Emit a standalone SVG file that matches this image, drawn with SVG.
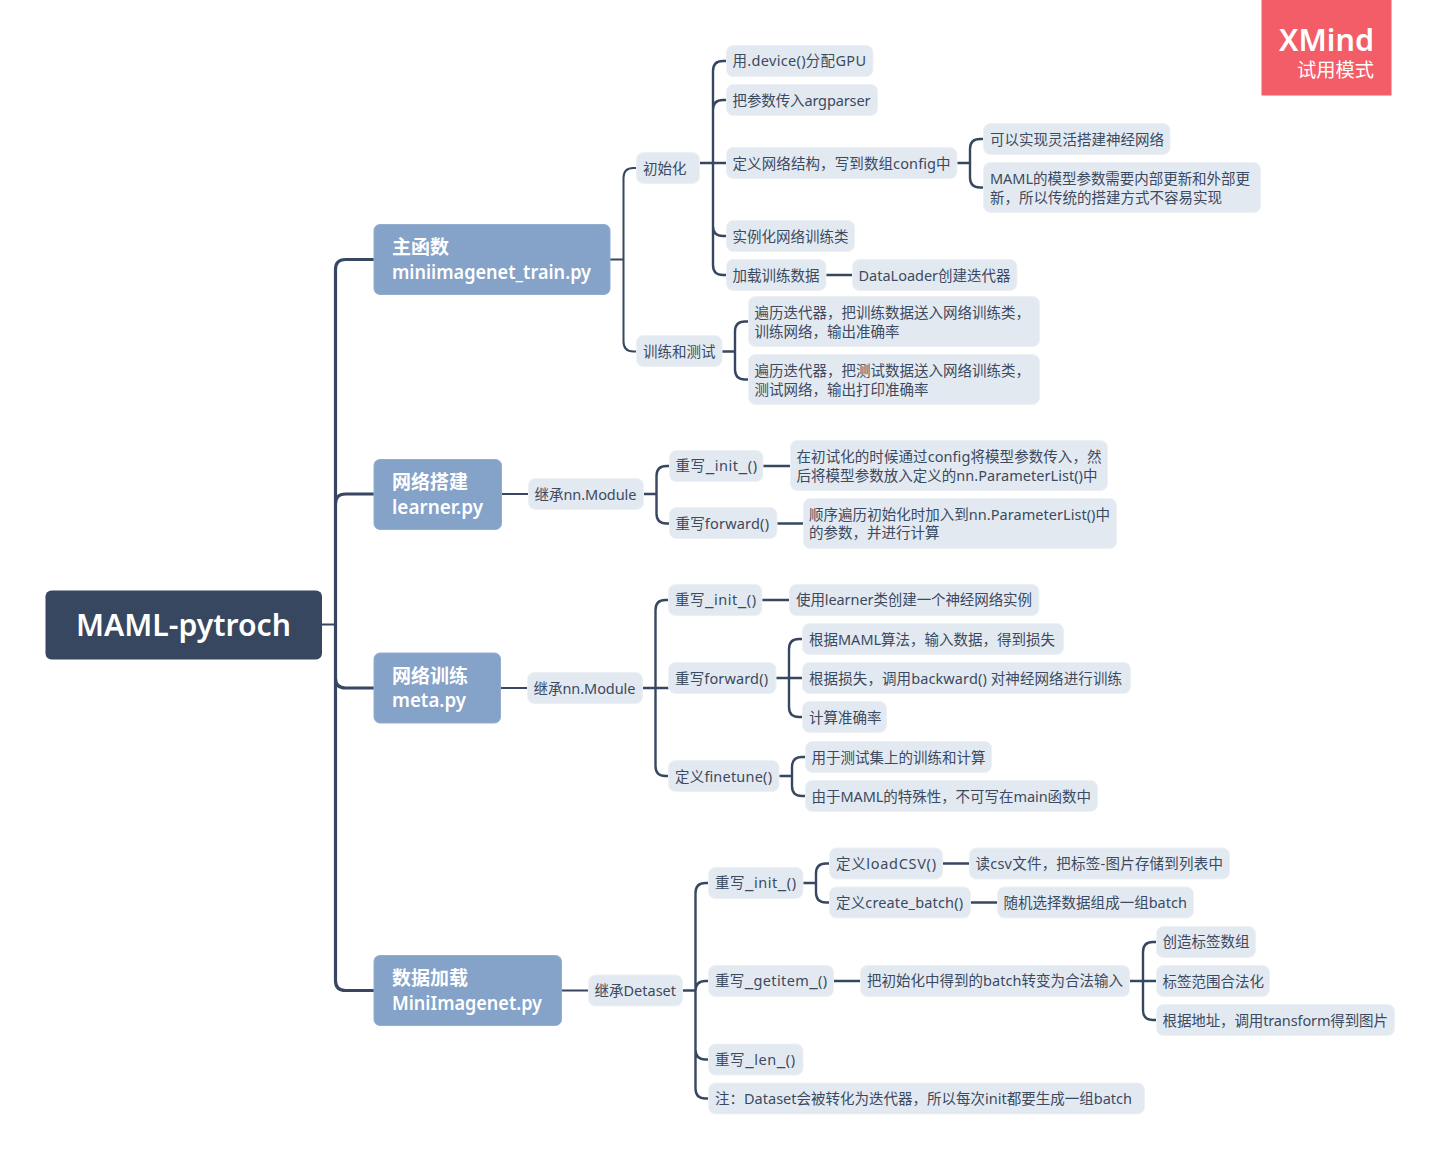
<svg xmlns="http://www.w3.org/2000/svg" width="1440" height="1159" viewBox="0 0 1440 1159">
<style>
text{font-family:"Noto Sans","Noto Sans CJK SC",sans-serif}
.c path{fill:none;stroke:#374760;stroke-width:2.4;stroke-linecap:round}
.c path.r{stroke-width:3.2}
.c path.t{stroke-width:2}
.s rect{fill:#e3e9f1;stroke:#edf1f6;stroke-width:1}
.s text{font-size:14.5px;fill:#3b4a60}
.u{font-size:19px}
.m rect{fill:#85a2c8;stroke:#93adcf;stroke-width:1}
.m text{font-size:19px;fill:#fff;font-weight:600}
</style>
<rect width="1440" height="1159" fill="#fff"/>
<g class="c" id="connectors">
<path class="t" d="M322 624.500H335.500"/>
<path class="r" d="M373.500 259.500H345.500Q335.500 259.500 335.500 269.500V980.500Q335.500 990.500 345.500 990.500H373.500M373.500 494H345.500Q335.500 494 335.500 504M373.500 688H345.500Q335.500 688 335.500 678"/>
<path class="t" d="M610 259.500H623.500M636 168H633.500Q623.500 168 623.500 178V341.500Q623.500 351.500 633.500 351.500H636"/>
<path d="M700 163H726M726 61H723Q713 61 713 71V265Q713 275 723 275H726M726 100H723Q713 100 713 110M726 236H723Q713 236 713 226"/>
<path d="M957 163H970M983 139H980Q970 139 970 149V177.500Q970 187.500 980 187.500H983"/>
<path d="M826 275H852"/>
<path d="M722 351.500H735M748 321.500H745Q735 321.500 735 331.500V369.500Q735 379.500 745 379.500H748"/>
<path class="t" d="M501.700 494H528"/>
<path d="M644 494H656.500M669 466H666.500Q656.500 466 656.500 476V513.500Q656.500 523.500 666.500 523.500H669"/>
<path d="M763 466H790M777 523.500H803"/>
<path class="t" d="M500.700 688H527"/>
<path d="M643 688H668M668 600H665.500Q655.500 600 655.500 610V766Q655.500 776 665.500 776H668M762 600H789"/>
<path d="M776 678H802M802 639H799Q789 639 789 649V707Q789 717 799 717H802"/>
<path d="M779 776H792M805 757H802Q792 757 792 767V786Q792 796 802 796H805"/>
<path class="t" d="M561.500 990.500H588"/>
<path d="M683 990.500H695.500M708 883H705.500Q695.500 883 695.500 893V1088.500Q695.500 1098.500 705.500 1098.500H708M708 981H705.500Q695.500 981 695.500 991M708 1059.500H705.500Q695.500 1059.500 695.500 1049.500"/>
<path d="M803 883H816M829 863.500H826Q816 863.500 816 873.500V892.500Q816 902.500 826 902.500H829"/>
<path d="M943 863.500H969M971 902.500H997M834 981H860"/>
<path d="M1130 981H1156M1156 942H1153Q1143 942 1143 952V1010Q1143 1020 1153 1020H1156"/>
</g>
<g id="root"><rect x="45.500" y="590.500" width="276.500" height="69" rx="6" fill="#374760"/><text x="76" y="636" textLength="215" lengthAdjust="spacingAndGlyphs" font-size="30" font-weight="600" fill="#fff">MAML-pytroch</text></g>
<g id="m1" class="m"><rect x="374" y="224.500" width="236" height="70" rx="6"/><text x="392" y="254">主函数</text><text x="392" y="278.500" textLength="199" lengthAdjust="spacingAndGlyphs">miniimagenet_train.py</text></g>
<g id="m2" class="m"><rect x="374" y="459.500" width="127.500" height="70" rx="6"/><text x="392" y="489">网络搭建</text><text x="392" y="513.500" textLength="91" lengthAdjust="spacingAndGlyphs">learner.py</text></g>
<g id="m3" class="m"><rect x="374" y="653" width="126.500" height="70" rx="6"/><text x="392" y="683">网络训练</text><text x="392" y="707" textLength="74" lengthAdjust="spacingAndGlyphs">meta.py</text></g>
<g id="m4" class="m"><rect x="374" y="955.500" width="187.500" height="70" rx="6"/><text x="392" y="985">数据加载</text><text x="392" y="1009.500" textLength="150" lengthAdjust="spacingAndGlyphs">MiniImagenet.py</text></g>
<g id="n1" class="s"><rect x="636.500" y="152.500" width="63" height="31" rx="7"/><text x="643" y="173.500">初始化</text></g>
<g id="n2" class="s"><rect x="726.500" y="45.500" width="146.500" height="31" rx="7"/><text x="732.500" y="66" textLength="133.500">用.device()分配GPU</text></g>
<g id="n3" class="s"><rect x="726.500" y="84.500" width="151" height="31" rx="7"/><text x="732.500" y="105.500" textLength="138">把参数传入argparser</text></g>
<g id="n4" class="s"><rect x="726.500" y="147.500" width="230.500" height="31" rx="7"/><text x="732.500" y="168.500" textLength="218">定义网络结构，写到数组config中</text></g>
<g id="n5" class="s"><rect x="726.500" y="220.500" width="128" height="31" rx="7"/><text x="732.500" y="241.500">实例化网络训练类</text></g>
<g id="n6" class="s"><rect x="726.500" y="259.500" width="99.500" height="31" rx="7"/><text x="732.500" y="280.500">加载训练数据</text></g>
<g id="n7" class="s"><rect x="852.500" y="259.500" width="164.500" height="31" rx="7"/><text x="858.500" y="280.500" textLength="152">DataLoader创建迭代器</text></g>
<g id="n8" class="s"><rect x="983.500" y="123.500" width="186.500" height="31" rx="7"/><text x="990" y="144.500">可以实现灵活搭建神经网络</text></g>
<g id="n9" class="s"><rect x="983.500" y="162.500" width="277" height="50" rx="7"/><text x="990" y="184" textLength="260">MAML的模型参数需要内部更新和外部更</text><text x="990" y="203">新，所以传统的搭建方式不容易实现</text></g>
<g id="n10" class="s"><rect x="636.500" y="335.500" width="85.500" height="31" rx="7"/><text x="643" y="356.500">训练和测试</text></g>
<g id="n11" class="s"><rect x="748.500" y="296.500" width="291" height="50" rx="7"/><text x="754.500" y="318">遍历迭代器，把训练数据送入网络训练类，</text><text x="754.500" y="337">训练网络，输出准确率</text></g>
<g id="n12" class="s"><rect x="748.500" y="354.500" width="291" height="50" rx="7"/><text x="754.500" y="376">遍历迭代器，把测试数据送入网络训练类，</text><text x="754.500" y="395">测试网络，输出打印准确率</text></g>
<g id="n13" class="s"><rect x="528.500" y="478.500" width="115" height="31" rx="7"/><text x="534.500" y="499.500" textLength="102">继承nn.Module</text></g>
<g id="n14" class="s"><rect x="669.500" y="450.500" width="93.500" height="31" rx="7"/><text x="675.500" y="471" textLength="81.500">重写<tspan class="u">_</tspan>init<tspan class="u">_</tspan>()</text></g>
<g id="n15" class="s"><rect x="669.500" y="507.500" width="107.500" height="31" rx="7"/><text x="675.500" y="528.500" textLength="93.500">重写forward()</text></g>
<g id="n16" class="s"><rect x="790.500" y="440.500" width="317" height="50" rx="7"/><text x="796.500" y="462" textLength="305">在初试化的时候通过config将模型参数传入，然</text><text x="796.500" y="481" textLength="301">后将模型参数放入定义的nn.ParameterList()中</text></g>
<g id="n17" class="s"><rect x="803.500" y="498.500" width="313" height="50" rx="7"/><text x="809" y="519.500" textLength="301">顺序遍历初始化时加入到nn.ParameterList()中</text><text x="809" y="538">的参数，并进行计算</text></g>
<g id="n18" class="s"><rect x="527.500" y="672.500" width="115" height="31" rx="7"/><text x="533.500" y="693.500" textLength="102">继承nn.Module</text></g>
<g id="n19" class="s"><rect x="668.500" y="584.500" width="93.500" height="31" rx="7"/><text x="675" y="605" textLength="81">重写<tspan class="u">_</tspan>init<tspan class="u">_</tspan>()</text></g>
<g id="n20" class="s"><rect x="668.500" y="662.500" width="107.500" height="31" rx="7"/><text x="675" y="683.500" textLength="93">重写forward()</text></g>
<g id="n21" class="s"><rect x="668.500" y="760.500" width="110.500" height="31" rx="7"/><text x="675" y="781.500" textLength="97">定义finetune()</text></g>
<g id="n22" class="s"><rect x="789.500" y="584.500" width="249.500" height="31" rx="7"/><text x="796" y="605" textLength="236">使用learner类创建一个神经网络实例</text></g>
<g id="n23" class="s"><rect x="802.500" y="623.500" width="261" height="31" rx="7"/><text x="809" y="644.500" textLength="246">根据MAML算法，输入数据，得到损失</text></g>
<g id="n24" class="s"><rect x="802.500" y="662.500" width="328" height="31" rx="7"/><text x="809" y="683.500" textLength="313">根据损失，调用backward() 对神经网络进行训练</text></g>
<g id="n25" class="s"><rect x="802.500" y="701.500" width="84" height="31" rx="7"/><text x="809" y="722.500">计算准确率</text></g>
<g id="n26" class="s"><rect x="805.500" y="741.500" width="186" height="31" rx="7"/><text x="811.500" y="762.500">用于测试集上的训练和计算</text></g>
<g id="n27" class="s"><rect x="805.500" y="780.500" width="292" height="31" rx="7"/><text x="811.500" y="801.500" textLength="279.500">由于MAML的特殊性，不可写在main函数中</text></g>
<g id="n28" class="s"><rect x="588.500" y="975" width="94" height="31" rx="7"/><text x="594.500" y="996" textLength="81.500">继承Detaset</text></g>
<g id="n29" class="s"><rect x="708.500" y="867.500" width="94.500" height="31" rx="7"/><text x="715" y="888" textLength="81">重写<tspan class="u">_</tspan>init<tspan class="u">_</tspan>()</text></g>
<g id="n30" class="s"><rect x="708.500" y="965.500" width="125" height="31" rx="7"/><text x="715" y="986" textLength="112">重写<tspan class="u">_</tspan>getitem<tspan class="u">_</tspan>()</text></g>
<g id="n31" class="s"><rect x="708.500" y="1044" width="94.500" height="31" rx="7"/><text x="715" y="1065" textLength="80">重写<tspan class="u">_</tspan>len<tspan class="u">_</tspan>()</text></g>
<g id="n32" class="s"><rect x="708.500" y="1083" width="436" height="31" rx="7"/><text x="715" y="1104" textLength="417">注：Dataset会被转化为迭代器，所以每次init都要生成一组batch</text></g>
<g id="n33" class="s"><rect x="829.500" y="848" width="113" height="31" rx="7"/><text x="836" y="869" textLength="100">定义loadCSV()</text></g>
<g id="n34" class="s"><rect x="829.500" y="887" width="141" height="31" rx="7"/><text x="836" y="908" textLength="127">定义create_batch()</text></g>
<g id="n35" class="s"><rect x="969.500" y="848" width="260" height="31" rx="7"/><text x="975.500" y="869" textLength="247.500">读csv文件，把标签-图片存储到列表中</text></g>
<g id="n36" class="s"><rect x="997.500" y="887" width="196" height="31" rx="7"/><text x="1003.500" y="908" textLength="183.500">随机选择数据组成一组batch</text></g>
<g id="n37" class="s"><rect x="860.500" y="965.500" width="269" height="31" rx="7"/><text x="867" y="986" textLength="256">把初始化中得到的batch转变为合法输入</text></g>
<g id="n38" class="s"><rect x="1156.500" y="926.500" width="99" height="31" rx="7"/><text x="1162.500" y="947">创造标签数组</text></g>
<g id="n39" class="s"><rect x="1156.500" y="965.500" width="113" height="31" rx="7"/><text x="1162.500" y="986.500">标签范围合法化</text></g>
<g id="n40" class="s"><rect x="1156.500" y="1004.500" width="238" height="31" rx="7"/><text x="1162.500" y="1025.500" textLength="225.500">根据地址，调用transform得到图片</text></g>
<g id="watermark"><rect x="1261.500" y="0" width="130" height="95.500" fill="#f25d67"/><text x="1279" y="51" textLength="95" lengthAdjust="spacingAndGlyphs" font-size="31" font-weight="600" fill="#fff">XMind</text><text x="1374" y="76.500" text-anchor="end" font-size="19.300" fill="#fff">试用模式</text></g>
</svg>
